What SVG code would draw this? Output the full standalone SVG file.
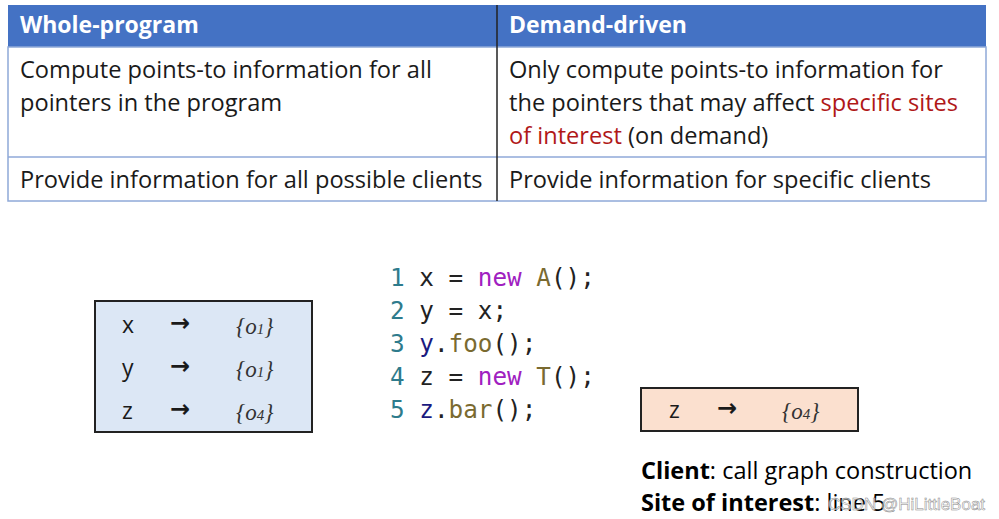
<svg xmlns="http://www.w3.org/2000/svg" width="999" height="519" viewBox="0 0 999 519">
<style>
.t{font-family:"Open Sans","Noto Sans",sans-serif;font-size:23.6px;fill:#1a1a1a}
.h{font-family:"Open Sans","Noto Sans",sans-serif;font-size:23px;font-weight:bold;fill:#fff}
.c{font-family:"DejaVu Sans Mono",monospace;font-size:24.3px;fill:#222}
.n{fill:#2e7b8c}.k{fill:#a020c0}.f{fill:#7a6a30}.v{fill:#1a1a80}
.m{font-family:"Open Sans","Noto Sans",sans-serif;font-size:23px;fill:#1a1a1a}
.a{font-family:"DejaVu Sans",sans-serif;font-size:24px;font-weight:bold;fill:#1a1a1a}
.s{font-family:"Liberation Serif",serif;font-style:italic;font-size:23px;fill:#333}
.b{font-family:"Open Sans","Noto Sans",sans-serif;font-size:23.5px;fill:#000}
</style>
<rect width="999" height="519" fill="#fff"/>
<g id="table">
<rect x="8" y="5" width="978" height="42" fill="#4472c4"/>
<rect x="8" y="47" width="978" height="154" fill="#fff" stroke="#8fa9d8" stroke-width="1.5"/>
<line x1="8" y1="157" x2="986" y2="157" stroke="#8fa9d8" stroke-width="1.5"/>
<line x1="497" y1="5" x2="497" y2="201" stroke="#222" stroke-width="1.5"/>
<text class="h" x="20" y="33">Whole-program</text>
<text class="h" x="509" y="33">Demand-driven</text>
<text class="t" x="20" y="78">Compute points-to information for all</text>
<text class="t" x="20" y="111">pointers in the program</text>
<text class="t" x="509" y="78">Only compute points-to information for</text>
<text class="t" x="509" y="111">the pointers that may affect <tspan fill="#b01818">specific sites</tspan></text>
<text class="t" x="509" y="144"><tspan fill="#b01818">of interest</tspan> (on demand)</text>
<text class="t" x="20" y="188">Provide information for all possible clients</text>
<text class="t" x="509" y="188">Provide information for specific clients</text>
</g>
<g id="whole-result">
<rect x="95" y="301" width="217" height="131" fill="#dce7f5" stroke="#222" stroke-width="2"/>
<text class="m" x="122" y="333">x</text><text class="a" x="170" y="331">→</text><text class="s" x="236" y="334">{o<tspan font-size="15">1</tspan>}</text>
<text class="m" x="122" y="376">y</text><text class="a" x="170" y="374">→</text><text class="s" x="236" y="377">{o<tspan font-size="15">1</tspan>}</text>
<text class="m" x="122" y="419">z</text><text class="a" x="170" y="417">→</text><text class="s" x="236" y="420">{o<tspan font-size="15">4</tspan>}</text>
</g>
<g id="code">
<text class="c" x="390" y="286"><tspan class="n">1</tspan> x = <tspan class="k">new</tspan> <tspan class="f">A</tspan>();</text>
<text class="c" x="390" y="319"><tspan class="n">2</tspan> y = x;</text>
<text class="c" x="390" y="352"><tspan class="n">3</tspan> <tspan class="v">y</tspan>.<tspan class="f">foo</tspan>();</text>
<text class="c" x="390" y="385"><tspan class="n">4</tspan> z = <tspan class="k">new</tspan> <tspan class="f">T</tspan>();</text>
<text class="c" x="390" y="418"><tspan class="n">5</tspan> <tspan class="v">z</tspan>.<tspan class="f">bar</tspan>();</text>
</g>
<g id="demand-result">
<rect x="641" y="388" width="217" height="43" fill="#fbe0cf" stroke="#222" stroke-width="2"/>
<text class="m" x="669" y="418">z</text><text class="a" x="717" y="416">→</text><text class="s" x="782" y="419">{o<tspan font-size="15">4</tspan>}</text>
</g>
<g id="notes">
<text class="b" x="641" y="479"><tspan font-weight="bold">Client</tspan>: call graph construction</text>
<text class="b" x="641" y="511"><tspan font-weight="bold">Site of interest</tspan>: line 5</text>
<text x="828" y="510" font-family="Liberation Sans,sans-serif" font-size="17" fill="#fff" fill-opacity="0.7" stroke="#888" stroke-width="0.5">CSDN @HiLittleBoat</text>
</g>
</svg>
